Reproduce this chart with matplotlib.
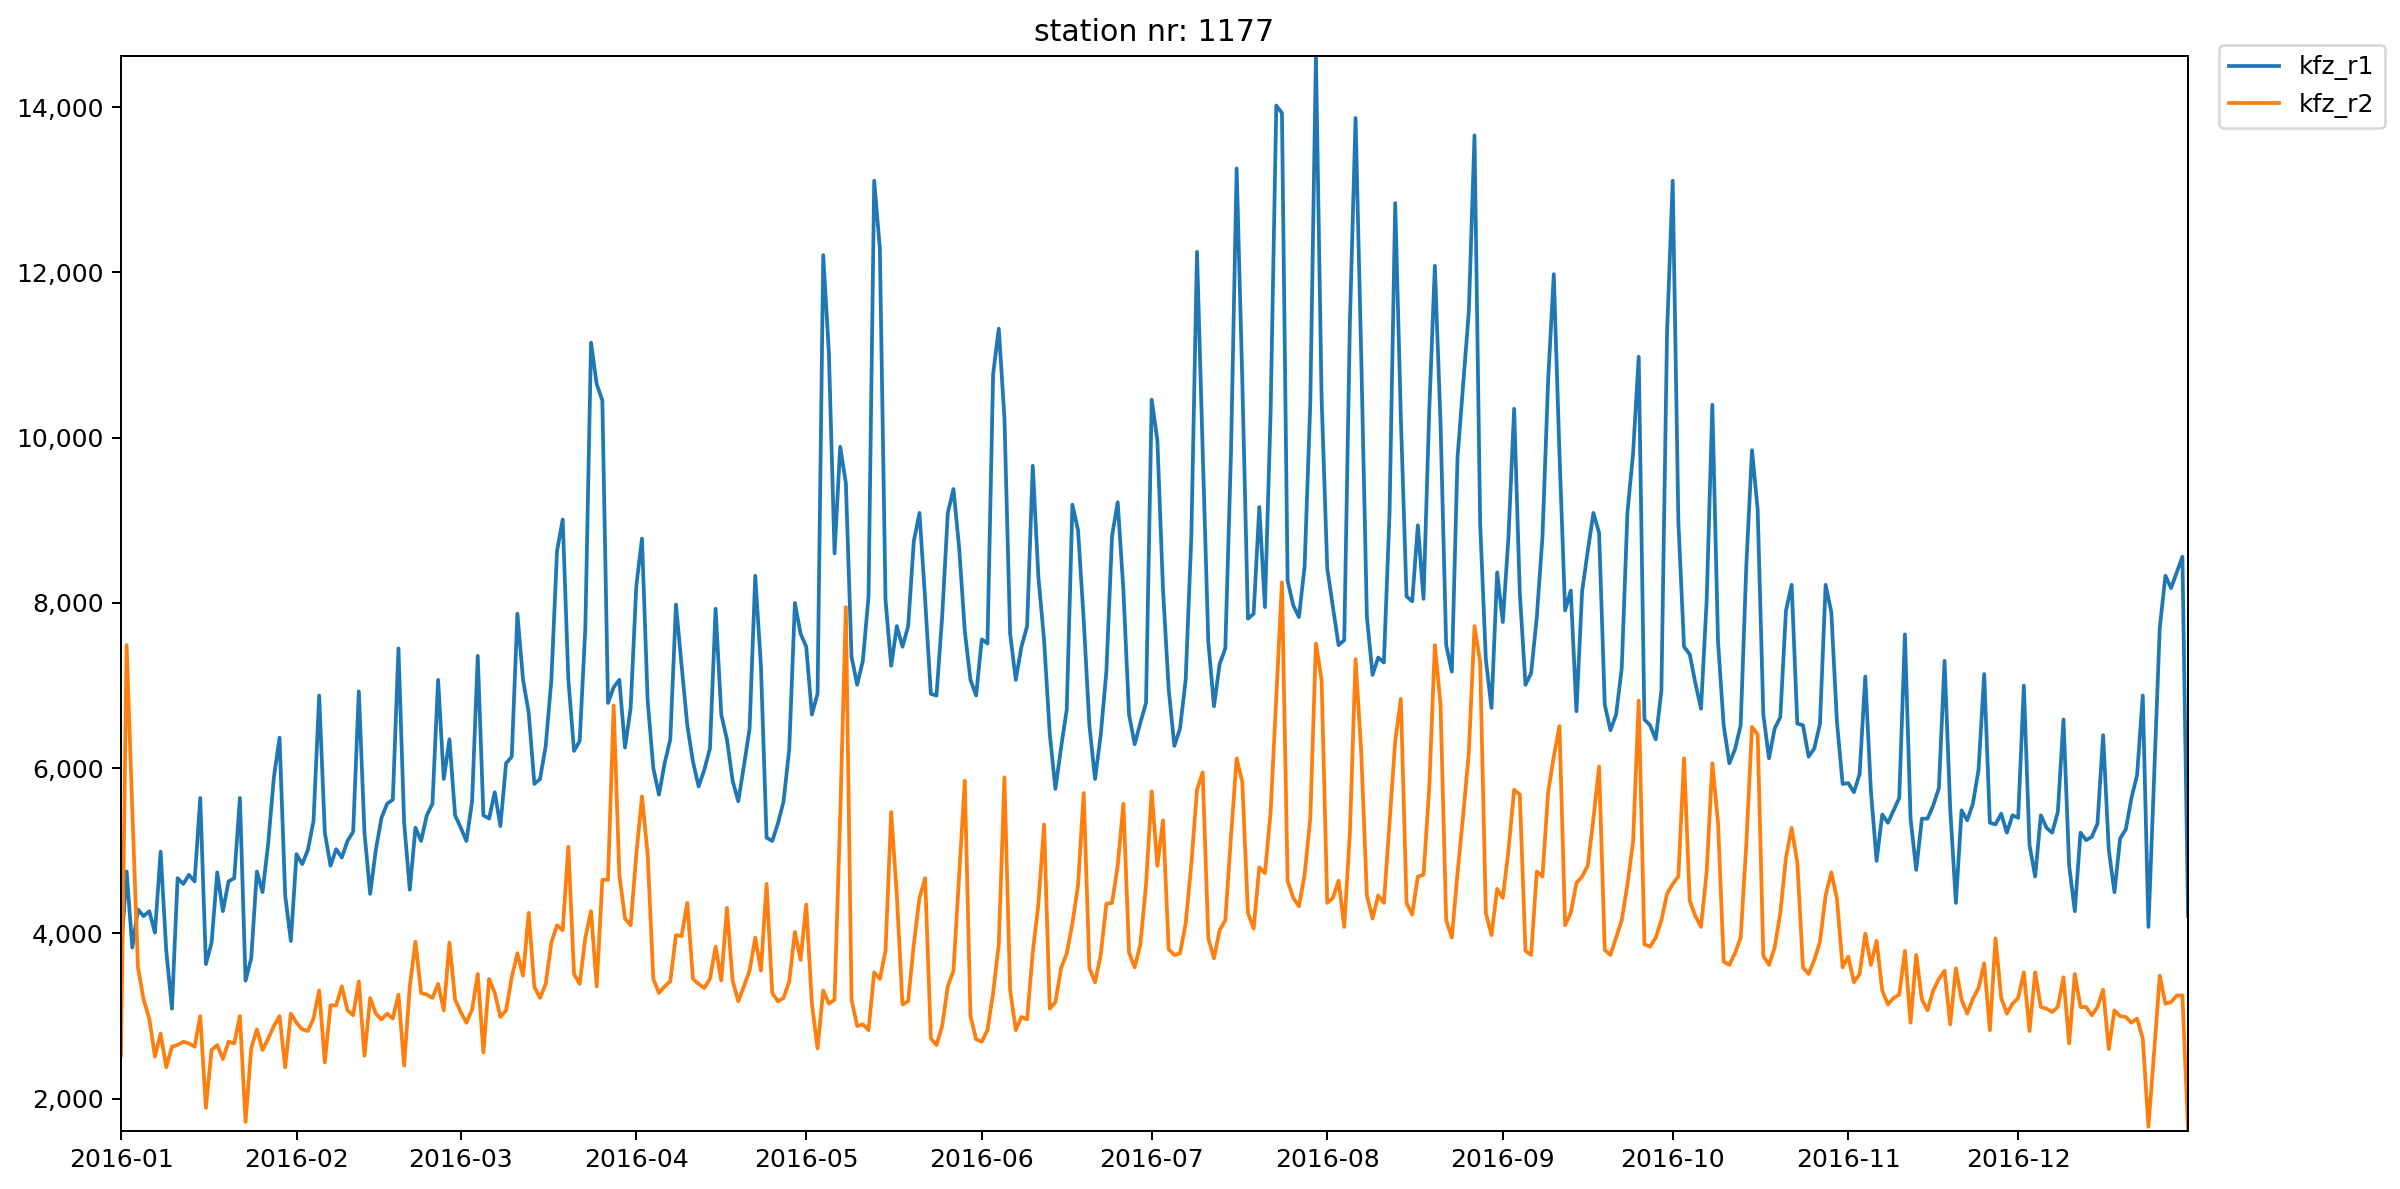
import matplotlib
matplotlib.use("Agg")
import matplotlib.pyplot as plt
import matplotlib.ticker as mticker
import pandas as pd

station = 1177
start_date = "2016-01-01"

kfz_r1 = [
    3750, 4750, 3830, 4290, 4210, 4270, 4010, 4990, 3790, 3090,
    4670, 4600, 4710, 4630, 5640, 3630, 3890, 4740, 4270, 4630,
    4670, 5640, 3430, 3700, 4750, 4500, 5090, 5890, 6370, 4460,
    3910, 4960, 4840, 5010, 5360, 6880, 5220, 4820, 5020, 4920,
    5120, 5230, 6930, 5220, 4480, 5010, 5400, 5570, 5620, 7450,
    5340, 4530, 5280, 5120, 5430, 5570, 7070, 5870, 6350, 5430,
    5280, 5120, 5600, 7360, 5430, 5390, 5710, 5300, 6060, 6140,
    7870, 7070, 6670, 5810, 5870, 6270, 7070, 8630, 9010, 7070,
    6210, 6330, 7700, 11150, 10650, 10450, 6790, 6980, 7070, 6250,
    6730, 8210, 8780, 6820, 6000, 5680, 6060, 6350, 7980, 7240,
    6520, 6080, 5780, 5980, 6240, 7930, 6650, 6350, 5850, 5600,
    6030, 6480, 8330, 7240, 5160, 5120, 5330, 5600, 6230, 8000,
    7630, 7470, 6650, 6900, 12210, 11030, 8600, 9890, 9450, 7350,
    7010, 7300, 8080, 13110, 12290, 8040, 7240, 7720, 7470, 7720,
    8750, 9090, 8040, 6900, 6880, 7830, 9090, 9380, 8670, 7660,
    7070, 6880, 7560, 7510, 10770, 11320, 10240, 7630, 7070, 7470,
    7720, 9660, 8310, 7550, 6420, 5750, 6250, 6710, 9190, 8880,
    7790, 6520, 5870, 6400, 7170, 8810, 9220, 8160, 6650, 6290,
    6550, 6790, 10460, 9970, 8160, 6960, 6270, 6480, 7070, 8800,
    12250, 9850, 7530, 6750, 7260, 7450, 9810, 13260, 10690, 7810,
    7870, 9160, 7950, 10310, 14020, 13930, 8270, 7970, 7830, 8440,
    10400, 14620, 10480, 8420, 7950, 7490, 7550, 11400, 13870, 10980,
    7830, 7130, 7340, 7280, 9090, 12840, 10230, 8080, 8020, 8940,
    8050, 10310, 12080, 10180, 7490, 7170, 9760, 10650, 11530, 13660,
    8960, 7320, 6730, 8370, 7770, 8800, 10350, 8120, 7010, 7150,
    7830, 8800, 10690, 11980, 9810, 7910, 8150, 6690, 8140, 8630,
    9090, 8850, 6770, 6460, 6650, 7210, 9090, 9810, 10980, 6590,
    6520, 6350, 6940, 11280, 13110, 8980, 7470, 7380, 7030, 6720,
    8040, 10400, 7530, 6520, 6060, 6230, 6520, 8460, 9850, 9130,
    6650, 6120, 6480, 6620, 7910, 8220, 6540, 6520, 6140, 6240,
    6540, 8220, 7890, 6560, 5810, 5820, 5710, 5930, 7110, 5720,
    4880, 5440, 5340, 5490, 5640, 7620, 5390, 4770, 5390, 5390,
    5550, 5760, 7300, 5510, 4370, 5490, 5370, 5570, 5980, 7140,
    5340, 5320, 5450, 5220, 5430, 5400, 7000, 5070, 4690, 5430,
    5280, 5220, 5470, 6590, 4820, 4270, 5220, 5130, 5170, 5330,
    6400, 5010, 4500, 5150, 5260, 5640, 5920, 6880, 4080, 5900,
    7700, 8330, 8180, 8370, 8560, 4210,
]

kfz_r2 = [
    2520, 7490, 5500, 3590, 3200, 2970, 2510, 2790, 2380, 2630,
    2650, 2690, 2670, 2630, 3000, 1890, 2590, 2650, 2480, 2690,
    2670, 3000, 1720, 2610, 2840, 2590, 2730, 2880, 3000, 2380,
    3030, 2920, 2840, 2820, 2970, 3310, 2440, 3130, 3130, 3360,
    3070, 3010, 3420, 2520, 3220, 3030, 2960, 3030, 2970, 3260,
    2400, 3360, 3900, 3280, 3260, 3220, 3390, 3070, 3890, 3200,
    3050, 2920, 3080, 3510, 2560, 3450, 3280, 2990, 3070, 3470,
    3760, 3490, 4250, 3350, 3220, 3390, 3890, 4100, 4040, 5050,
    3510, 3390, 3950, 4270, 3360, 4650, 4650, 6760, 4710, 4180,
    4100, 4960, 5660, 4960, 3450, 3280, 3360, 3420, 3980, 3970,
    4370, 3450, 3390, 3340, 3450, 3840, 3430, 4310, 3430, 3180,
    3360, 3550, 3950, 3550, 4600, 3280, 3180, 3220, 3420, 4020,
    3680, 4350, 3150, 2610, 3310, 3150, 3200, 5430, 7950, 3200,
    2880, 2900, 2830, 3530, 3450, 3790, 5470, 4460, 3140, 3180,
    3870, 4430, 4670, 2730, 2650, 2880, 3360, 3550, 4710, 5850,
    3000, 2720, 2690, 2830, 3280, 3870, 5890, 3320, 2830, 2990,
    2960, 3770, 4360, 5320, 3090, 3170, 3580, 3760, 4120, 4590,
    5700, 3580, 3410, 3740, 4360, 4370, 4820, 5570, 3770, 3590,
    3870, 4590, 5720, 4820, 5370, 3810, 3740, 3760, 4120, 4840,
    5740, 5950, 3940, 3700, 4040, 4160, 5170, 6120, 5830, 4250,
    4060, 4800, 4730, 5470, 6860, 8250, 4640, 4430, 4330, 4710,
    5390, 7510, 7070, 4370, 4430, 4640, 4080, 5220, 7320, 6190,
    4460, 4180, 4460, 4370, 5340, 6330, 6840, 4370, 4230, 4690,
    4710, 5750, 7490, 6770, 4160, 3950, 4730, 5430, 6190, 7720,
    7280, 4250, 3980, 4540, 4430, 5010, 5740, 5680, 3790, 3740,
    4750, 4690, 5710, 6140, 6510, 4100, 4250, 4610, 4690, 4820,
    5390, 6020, 3800, 3740, 3950, 4160, 4590, 5110, 6820, 3870,
    3840, 3950, 4160, 4480, 4600, 4690, 6120, 4400, 4210, 4080,
    4750, 6060, 5340, 3660, 3620, 3760, 3950, 5090, 6500, 6410,
    3730, 3620, 3830, 4250, 4920, 5280, 4860, 3590, 3510, 3680,
    3900, 4460, 4740, 4420, 3590, 3720, 3410, 3510, 4000, 3620,
    3910, 3310, 3140, 3220, 3260, 3790, 2920, 3740, 3200, 3070,
    3310, 3450, 3550, 2900, 3580, 3200, 3030, 3210, 3340, 3640,
    2830, 3940, 3220, 3030, 3150, 3220, 3530, 2820, 3530, 3110,
    3090, 3050, 3110, 3470, 2670, 3510, 3110, 3110, 3010, 3110,
    3320, 2600, 3070, 3000, 2990, 2920, 2970, 2730, 1660, 2560,
    3490, 3150, 3170, 3250, 3250, 1610,
]


def main():
    dates = pd.date_range(start_date, periods=len(kfz_r1), freq="D")

    fig, ax = plt.subplots(figsize=(2400 / 180, 1189 / 180), dpi=180)
    ax.plot(dates, kfz_r1, label="kfz_r1")
    ax.plot(dates, kfz_r2, label="kfz_r2")
    ax.margins(x=0, y=0)
    ax.yaxis.set_major_formatter(mticker.StrMethodFormatter("{x:,.0f}"))
    ax.set_title(f"station nr: {station}")
    ax.legend(bbox_to_anchor=(1.015, 1.01), loc="upper left", borderaxespad=0)

    fig.subplots_adjust(left=0.0504, right=0.9117, bottom=0.0488, top=0.9529)
    fig.savefig("out.png", dpi=180)


if __name__ == '__main__':
    main()
